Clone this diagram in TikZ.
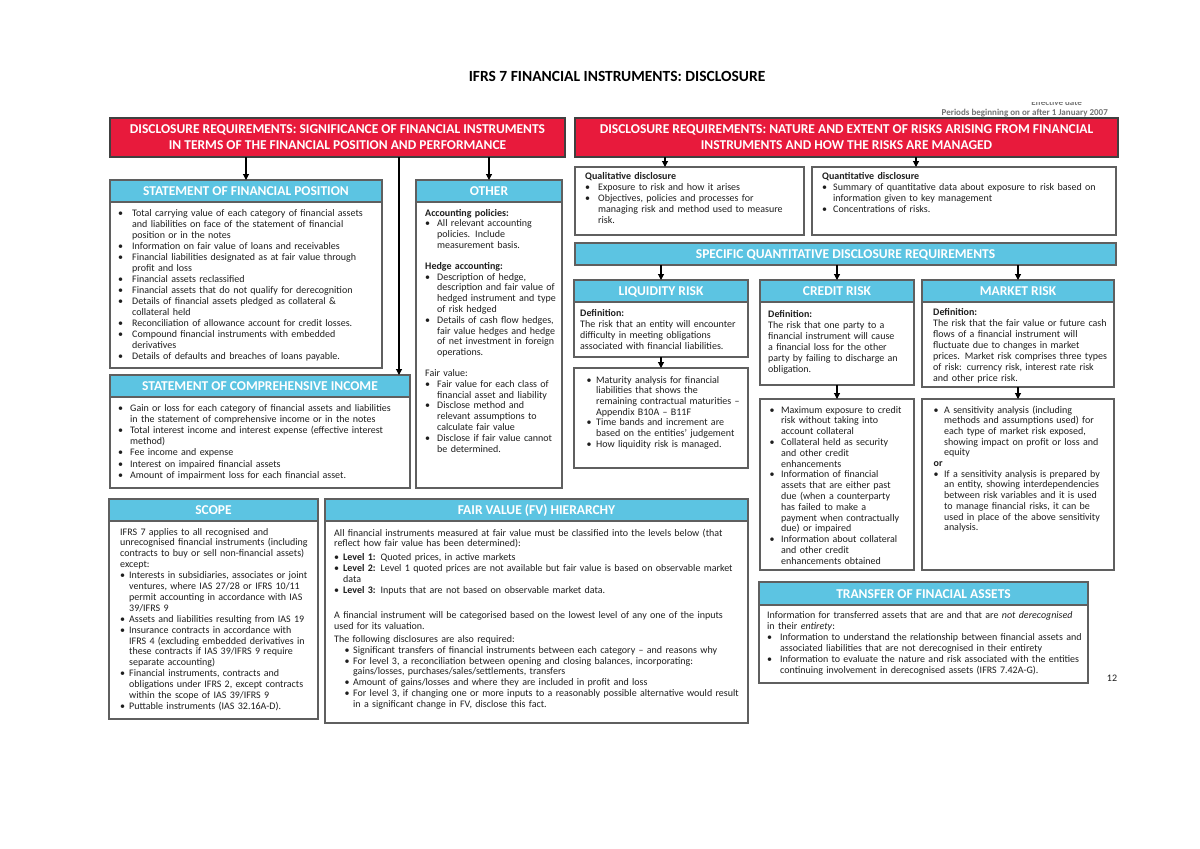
\documentclass[tikz,border=0pt]{standalone}
\usepackage{fontspec}
\setmainfont{Carlito}
\usetikzlibrary{arrows.meta}
\definecolor{redh}{RGB}{232,26,60}
\definecolor{blueh}{RGB}{92,196,226}
\definecolor{edge}{RGB}{95,95,95}
\definecolor{txt}{RGB}{30,30,30}
\newcommand\Bodyf{\fontsize{10}{11}\selectfont}
\newcommand\Headf{\fontsize{13.5}{16}\selectfont\bfseries}
\newcommand\Lb{\hfil\break}
\newcommand\Bi[2][11pt]{\hangindent=#1\hangafter=1\noindent\makebox[#1][l]{\textbullet}#2\par}
\newcommand\Bii[1]{\hangindent=19pt\hangafter=1\noindent\makebox[19pt][l]{\hspace{10.5pt}\textbullet}#1\par}
\newcommand\Lbl[1]{\noindent\textbf{#1}\par}
\newcommand\Pl[1]{\noindent #1\par}
\newcommand\Gap[1]{\vspace{#1}}
\newcommand\Jl[1]{\makebox[170pt][s]{#1}}
\newcommand\Mkbox[7]{\node[#1, anchor=north west, minimum width={(#4)-(#2)}, minimum height={(#5)-(#3)}] (#6) at (#2,#3) {#7};}
\tikzset{
  frame/.style={draw=edge, line width=1.3pt, fill=white, inner sep=0pt, outer sep=0pt},
  band/.style={frame, fill=blueh, text=white, font=\Headf, text height=9pt, text depth=0pt},
  redband/.style={draw=black!75, line width=1.3pt, fill=redh, text=white, font=\Headf, align=center, inner sep=0pt, outer sep=0pt},
  body/.style={anchor=base west, inner sep=0pt, text width=#1, align=left, font=\Bodyf, text=txt,
    execute at begin node={\parindent=0pt\parskip=0pt}},
  body/.default=420pt,
  titlef/.style={font=\fontsize{15.5}{18}\selectfont\bfseries, text=black, inner sep=0pt},
  note/.style={font=\fontsize{9}{10}\selectfont\bfseries, text=black!55, inner sep=0pt},
  arr/.style={draw=black, line width=1.1pt, -{Triangle[length=6pt,width=6pt]}},
}
\begin{document}
\begin{tikzpicture}[x=1pt,y=-1pt]
\fill[white] (0,0) rectangle (1200,849);
\useasboundingbox (0,0) rectangle (1200,849);

% title and dates
\node[titlef] (title) at (617,76) {IFRS 7 FINANCIAL INSTRUMENTS: DISCLOSURE};
\begin{scope}
  \clip (950,102.5) rectangle (1120,108);
  \node[note, anchor=base east] (eff) at (1082,105) {Effective date};
\end{scope}
\node[note, anchor=base east] (periods) at (1108,115) {Periods beginning on or after 1 January 2007};

% red headers
\Mkbox{redband}{110}{118}{565}{157}{redL}{DISCLOSURE REQUIREMENTS: SIGNIFICANCE OF FINANCIAL INSTRUMENTS\\IN TERMS OF THE FINANCIAL POSITION AND PERFORMANCE}
\Mkbox{redband}{575}{118}{1118}{157}{redR}{DISCLOSURE REQUIREMENTS: NATURE AND EXTENT OF RISKS ARISING FROM FINANCIAL\\INSTRUMENTS AND HOW THE RISKS ARE MANAGED}

% boxes
\Mkbox{frame}{110}{180}{382}{368}{sfp}{}
\Mkbox{band}{110}{180}{382}{202}{sfph}{STATEMENT OF FINANCIAL POSITION}
\Mkbox{frame}{416}{180}{562}{488}{oth}{}
\Mkbox{band}{416}{180}{562}{202}{othh}{OTHER}
\Mkbox{frame}{110}{375}{410}{488}{sci}{}
\Mkbox{band}{110}{375}{410}{397}{scih}{STATEMENT OF COMPREHENSIVE INCOME}
\Mkbox{frame}{575}{167}{804}{235}{qual}{}
\Mkbox{frame}{812}{167}{1116}{235}{quant}{}
\Mkbox{band}{575}{243}{1116}{265}{spec}{SPECIFIC QUANTITATIVE DISCLOSURE REQUIREMENTS}
\Mkbox{frame}{574}{280}{748}{357}{liq}{}
\Mkbox{band}{574}{280}{748}{302}{liqh}{LIQUIDITY RISK}
\Mkbox{frame}{574}{368}{748}{468}{liqd}{}
\Mkbox{frame}{760}{280}{914}{385}{cre}{}
\Mkbox{band}{760}{280}{914}{302}{creh}{CREDIT RISK}
\Mkbox{frame}{760}{399}{914}{570}{cred}{}
\Mkbox{frame}{922}{280}{1114}{387}{mkt}{}
\Mkbox{band}{922}{280}{1114}{302}{mkth}{MARKET RISK}
\Mkbox{frame}{922}{399}{1114}{570}{mktd}{}
\Mkbox{frame}{109}{499}{318}{719}{scope}{}
\Mkbox{band}{109}{499}{318}{521}{scopeh}{SCOPE}
\Mkbox{frame}{325}{499}{748}{723}{fv}{}
\Mkbox{band}{325}{499}{748}{521}{fvh}{FAIR VALUE (FV) HIERARCHY}
\Mkbox{frame}{759}{582}{1088}{683}{tr}{}
\Mkbox{band}{759}{582}{1088}{605}{trh}{TRANSFER OF FINACIAL ASSETS}

% texts
\node[body] (sfpt) at (118,216) {%
\Bi[14pt]{Total carrying value of each category of financial assets\Lb and liabilities on face of the statement of financial\Lb position or in the notes}%
\Bi[14pt]{Information on fair value of loans and receivables}%
\Bi[14pt]{Financial liabilities designated as at fair value through\Lb profit and loss}%
\Bi[14pt]{Financial assets reclassified}%
\Bi[14pt]{Financial assets that do not qualify for derecognition}%
\Bi[14pt]{Details of financial assets pledged as collateral \&\Lb collateral held}%
\Bi[14pt]{Reconciliation of allowance account for credit losses.}%
\Bi[14pt]{Compound financial instruments with embedded\Lb derivatives}%
\Bi[14pt]{Details of defaults and breaches of loans payable.}};

\node[body, font=\fontsize{10}{10.8}\selectfont] (otht) at (425,216) {%
\Lbl{Accounting policies:}%
\Bi[12pt]{All relevant accounting\Lb policies. Include\Lb measurement basis.}%
\Gap{10pt}%
\Lbl{Hedge accounting:}%
\Bi[12pt]{Description of hedge,\Lb description and fair value of\Lb hedged instrument and type\Lb of risk hedged}%
\Bi[12pt]{Details of cash flow hedges,\Lb fair value hedges and hedge\Lb of net investment in foreign\Lb operations.}%
\Gap{10pt}%
\Pl{Fair value:}%
\Bi[12pt]{Fair value for each class of\Lb financial asset and liability}%
\Bi[12pt]{Disclose method and\Lb relevant assumptions to\Lb calculate fair value}%
\Bi[12pt]{Disclose if fair value cannot\Lb be determined.}};

\node[body, font=\fontsize{10}{11.2}\selectfont] (scit) at (118,411) {%
\Bi[12pt]{Gain or loss for each category of financial assets and liabilities\Lb in the statement of comprehensive income or in the notes}%
\Bi[12pt]{Total interest income and interest expense (effective interest\Lb method)}%
\Bi[12pt]{Fee income and expense}%
\Bi[12pt]{Interest on impaired financial assets}%
\Bi[12pt]{Amount of impairment loss for each financial asset.}};

\node[body] (qualt) at (585,179) {%
\Lbl{Qualitative disclosure}%
\Bi[13pt]{Exposure to risk and how it arises}%
\Bi[13pt]{Objectives, policies and processes for\Lb managing risk and method used to measure\Lb risk.}};

\node[body] (quantt) at (822,179) {%
\Lbl{Quantitative disclosure}%
\Bi[11pt]{Summary of quantitative data about exposure to risk based on\Lb information given to key management}%
\Bi[11pt]{Concentrations of risks.}};

\node[body] (liqt) at (580,316) {%
\Lbl{Definition:}%
\Pl{The risk that an entity will encounter\Lb difficulty in meeting obligations\Lb associated with financial liabilities.}};

\node[body, font=\fontsize{10}{10.7}\selectfont] (liqdt) at (586.5,383) {%
\Bi[9.5pt]{Maturity analysis for financial\Lb liabilities that shows the\Lb remaining contractual maturities –\Lb Appendix B10A – B11F}%
\Bi[9.5pt]{Time bands and increment are\Lb based on the entities’ judgement}%
\Bi[9.5pt]{How liquidity risk is managed.}};

\node[body] (cret) at (768,317) {%
\Lbl{Definition:}%
\Pl{The risk that one party to a\Lb financial instrument will cause\Lb a financial loss for the other\Lb party by failing to discharge an\Lb obligation.}};

\node[body, font=\fontsize{10}{10.8}\selectfont] (credt) at (769.5,413) {%
\Bi[11.5pt]{Maximum exposure to credit\Lb risk without taking into\Lb account collateral}%
\Bi[11.5pt]{Collateral held as security\Lb and other credit\Lb enhancements}%
\Bi[11.5pt]{Information of financial\Lb assets that are either past\Lb due (when a counterparty\Lb has failed to make a\Lb payment when contractually\Lb due) or impaired}%
\Bi[11.5pt]{Information about collateral\Lb and other credit\Lb enhancements obtained}};

\node[body] (mktt) at (933,315) {%
\Lbl{Definition:}%
\Pl{\Jl{The risk that the fair value or future cash}\Lb\Jl{flows of a financial instrument will}\Lb\Jl{fluctuate due to changes in market}\Lb\Jl{prices. Market risk comprises three types}\Lb\Jl{of risk: currency risk, interest rate risk}\Lb and other price risk.}};

\node[body, font=\fontsize{10}{10.7}\selectfont] (mktdt) at (933.5,413) {%
\Bi[10.5pt]{A sensitivity analysis (including\Lb methods and assumptions used) for\Lb each type of market risk exposed,\Lb showing impact on profit or loss and\Lb equity}%
\Lbl{or}%
\Bi[10.5pt]{If a sensitivity analysis is prepared by\Lb an entity, showing interdependencies\Lb between risk variables and it is used\Lb to manage financial risks, it can be\Lb used in place of the above sensitivity\Lb analysis.}};

\node[body, font=\fontsize{10}{10.9}\selectfont] (scopet) at (120,535) {%
\Pl{IFRS 7 applies to all recognised and\Lb unrecognised financial instruments (including\Lb contracts to buy or sell non-financial assets)\Lb except:}%
\Bi[9pt]{Interests in subsidiaries, associates or joint\Lb ventures, where IAS 27/28 or IFRS 10/11\Lb permit accounting in accordance with IAS\Lb 39/IFRS 9}%
\Bi[9pt]{Assets and liabilities resulting from IAS 19}%
\Bi[9pt]{Insurance contracts in accordance with\Lb IFRS 4 (excluding embedded derivatives in\Lb these contracts if IAS 39/IFRS 9 require\Lb separate accounting)}%
\Bi[9pt]{Financial instruments, contracts and\Lb obligations under IFRS 2, except contracts\Lb within the scope of IAS 39/IFRS 9}%
\Bi[9pt]{Puttable instruments (IAS 32.16A-D).}};

\node[body, font=\fontsize{10}{10.8}\selectfont] (fvt) at (334,536) {%
\Pl{All financial instruments measured at fair value must be classified into the levels below (that\Lb reflect how fair value has been determined):}%
\Gap{3pt}%
\Bi[9pt]{\textbf{Level 1:} Quoted prices, in active markets}%
\Bi[9pt]{\textbf{Level 2:} Level 1 quoted prices are not available but fair value is based on observable market\Lb data}%
\Bi[9pt]{\textbf{Level 3:} Inputs that are not based on observable market data.}%
\Gap{15pt}%
\Pl{A financial instrument will be categorised based on the lowest level of any one of the inputs\Lb used for its valuation.}%
\Gap{2pt}%
\Pl{The following disclosures are also required:}%
\Bii{Significant transfers of financial instruments between each category – and reasons why}%
\Bii{For level 3, a reconciliation between opening and closing balances, incorporating:\Lb gains/losses, purchases/sales/settlements, transfers}%
\Bii{Amount of gains/losses and where they are included in profit and loss}%
\Bii{For level 3, if changing one or more inputs to a reasonably possible alternative would result\Lb in a significant change in FV, disclose this fact.}};

\node[body] (trt) at (767,618) {%
\Pl{Information for transferred assets that are and that are \textit{not derecognised}\Lb in their \textit{entirety}:}%
\Bi[13pt]{Information to understand the relationship between financial assets and\Lb associated liabilities that are not derecognised in their entirety}%
\Bi[13pt]{Information to evaluate the nature and risk associated with the entities\Lb continuing involvement in derecognised assets (IFRS 7.42A-G).}};

\node[font=\Bodyf, text=txt, inner sep=0pt] (pg) at (1112,678) {12};

% connectors
\coordinate (sciin) at ([xshift=-11pt]sci.north east);
\coordinate (qualin) at ([xshift=90pt]qual.north west);
\coordinate (quantin) at ([xshift=104pt]quant.north west);
\draw[arr] (sfp.north |- redL.south) -- (sfp.north);
\draw[arr] (sciin |- redL.south) -- (sciin);
\draw[arr] (oth.north |- redL.south) -- (oth.north);
\draw[arr] (qualin |- redR.south) -- (qualin);
\draw[arr] (quantin |- redR.south) -- (quantin);
\draw[arr] (liq.north |- spec.south) -- (liq.north);
\draw[arr] (cre.north |- spec.south) -- (cre.north);
\draw[arr] (mkt.north |- spec.south) -- (mkt.north);
\draw[arr] (liq.south) -- (liqd.north);
\draw[arr] (cre.south) -- (cred.north);
\draw[arr] (mkt.south) -- (mktd.north);
\end{tikzpicture}
\end{document}
